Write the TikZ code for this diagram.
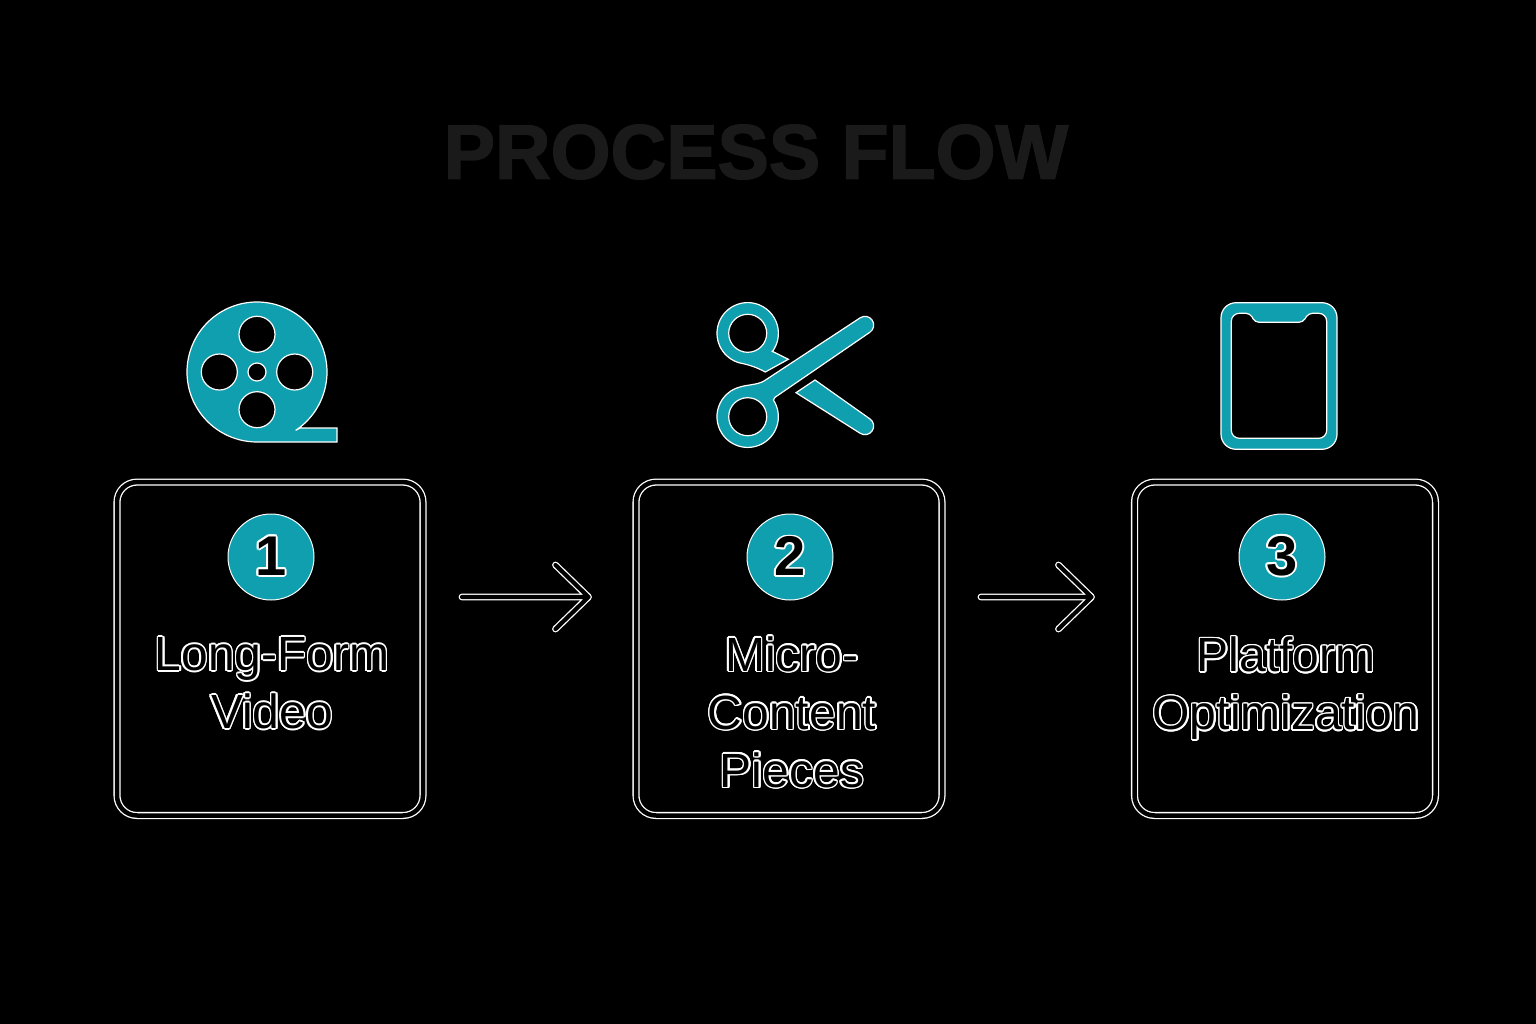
\documentclass[tikz,border=0pt]{standalone}
\usepackage{fontspec}
\usepackage[copies]{contour}
\setmainfont{Liberation Sans}
\newfontfamily\titlefont[FakeBold=2]{Liberation Sans Bold}
\contourlength{1.6pt}
\contournumber{16}
\definecolor{reelteal}{HTML}{0F9FAE}
\definecolor{titlegrey}{HTML}{1A1A1A}
\newcommand{\outl}[1]{\contour{white}{#1}}
\tikzset{
	stagebox/.style={draw=white,double=black,double distance=4.5pt,line width=1.3pt,rounded corners=20pt,
		minimum width=306pt,minimum height=333.4pt,inner sep=0pt,outer sep=0pt},
	badge/.style={circle,draw=white,line width=1pt,fill=reelteal,minimum size=86pt,inner sep=0pt,outer sep=0pt},
	outlined/.style={text=black,align=center,inner sep=0pt},
	badgenum/.style={outlined,font=\fontsize{56}{56}\selectfont\bfseries},
	stagelabel/.style={outlined,font=\fontsize{48}{58}\selectfont},
	flowline/.style={draw=white,double=black,double distance=4.2pt,line width=1.3pt,line cap=round,line join=round},
	iconfill/.style={draw=white,line width=1.2pt,fill=reelteal},
	iconhole/.style={draw=white,line width=1.2pt,fill=black},
}
\begin{document}
\begin{tikzpicture}[x=1pt,y=-1pt]
	\useasboundingbox (0,0) rectangle (1536,1024);
	\fill [black] (0,0) rectangle (1536,1024);
	\node (title) at (756,152) [text=titlegrey,font=\fontsize{77}{78}\titlefont] {PROCESS FLOW};
	% boxes
	\node (box1) at (270,648.8) [stagebox] {};
	\node (box2) at (789,648.8) [stagebox] {};
	\node (box3) at (1285,648.8) [stagebox,minimum width=301pt] {};
	\node (badge1) at (271,557) [badge] {};
	\node (badge2) at (790,557) [badge] {};
	\node (badge3) at (1282,557) [badge] {};
	\node (num1) at (badge1) [badgenum] {\outl{1}};
	\node (num2) at (badge2) [badgenum] {\outl{2}};
	\node (num3) at (badge3) [badgenum] {\outl{3}};
	\node (label1) at (272,684) [stagelabel] {\outl{Long-Form}\\\outl{Video}};
	\node (label2) at (792,713) [stagelabel] {\outl{Micro-}\\\outl{Content}\\\outl{Pieces}};
	\node (label3) at (1286,689) [stagelabel] {\outl{Platform}\\\outl{Optimization}};
	% arrows
	\coordinate (tail12) at ([xshift=39pt,yshift=51.8pt]box1.east);
	\coordinate (tip12) at ([xshift=-47.5pt,yshift=51.8pt]box2.west);
	\coordinate (tail23) at ([xshift=39pt,yshift=51.8pt]box2.east);
	\coordinate (tip23) at ([xshift=-43pt,yshift=51.8pt]box3.west);
	\draw [flowline] (tail12) -- (tip12) ++(-33,-32) -- (tip12) -- ++(-33,32);
	\draw [flowline] (tail23) -- (tip23) ++(-33,-32) -- (tip23) -- ++(-33,32);
	% reel
	\draw [iconfill] (257,372) ++(56.5:70) arc (56.5:-270:70) -- (337,442) -- (337,428) -- (300,428) -- cycle;
	\draw [iconhole] (257,372) circle (9);
	\foreach \a in {0,90,180,270}
		\draw [iconhole] (257,372) ++(\a:37.7) circle (18);
	% scissors
	\draw [iconfill] (771.7,351) -- (788.3,359.3) -- (765.3,372) .. controls (757,367.5) and (750,365) .. (739.75,362.95) arc (105:396.4:30.7) -- cycle;
	\draw [iconfill] (764,381) -- (860.2,317.8) arc (-123.7:56.3:8.7) -- (775,397.3) -- (773.4,400) arc (-33:255:30.7) .. controls (748,384.5) and (757,385) .. cycle;
	\draw [iconfill] (815,380) -- (869.8,418.8) arc (-56.3:123.7:8.7) -- (796,392.7) -- cycle;
	\draw [iconhole] (747.7,333.3) circle (19);
	\draw [iconhole] (747.7,416.7) circle (19);
	% phone
	\draw [iconfill,even odd rule] [rounded corners=15pt] (1221,302.7) rectangle (1337,449.3)
		[rounded corners=8pt] (1231.3,380) -- (1231.3,313.3) [rounded corners=4pt] -- (1250,313.3) -- (1255,322.3) -- (1303,322.3) -- (1308.3,313.3)
		[rounded corners=8pt] -- (1326.7,313.3) -- (1326.7,438.3) -- (1231.3,438.3) -- cycle;
\end{tikzpicture}
\end{document}
